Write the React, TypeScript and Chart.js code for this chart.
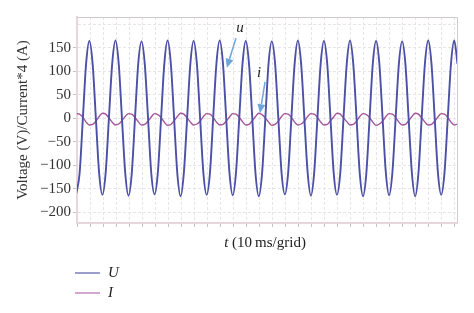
import React, { useEffect, useRef } from 'react';
import { Chart, registerables } from 'chart.js';

Chart.register(...registerables);

// Sampling of the recorded waveforms (ms)
const SAMPLE_START_MS = -0.5;
const SAMPLE_STEP_MS = 2.5;

// Voltage U (V), one row per 20 ms cycle
const voltage: number[] = [
  -160, -117, 0, 117, 165, 116, -1, -117,
  -163, -116, 1, 116, 166, 117, 0, -116,
  -165, -118, 0, 117, 164, 116, 1, -117,
  -162, -117, -1, 116, 166, 117, 0, -118,
  -166, -116, 0, 117, 165, 116, -1, -117,
  -163, -117, 1, 117, 166, 117, 0, -116,
  -164, -116, 0, 116, 165, 116, 1, -118,
  -166, -118, -1, 117, 164, 117, 0, -117,
  -162, -117, 0, 116, 166, 116, -1, -116,
  -165, -116, 1, 117, 165, 117, 0, -117,
  -163, -117, 0, 116, 166, 116, 1, -118,
  -166, -118, -1, 117, 165, 117, 0, -116,
  -164, -116, 0, 116, 164, 116, -1, -117,
  -166, -117, 1, 117, 166, 117, 0, -117,
  -163, -116, 0, 117, 166, 116,
];

// Current*4 I (A), same sampling
const current: number[] = [
  10, 9, 2, -8, -14, -13, -6, 4,
  11, 9, 1, -8, -14, -12, -5, 4,
  10, 9, 2, -7, -14, -13, -6, 3,
  10, 8, 2, -8, -15, -13, -5, 4,
  11, 9, 1, -8, -14, -12, -6, 4,
  10, 9, 2, -8, -14, -13, -6, 3,
  10, 9, 2, -7, -14, -13, -5, 4,
  11, 8, 1, -8, -15, -13, -6, 4,
  10, 9, 2, -8, -14, -12, -6, 4,
  10, 9, 2, -8, -14, -13, -5, 3,
  11, 9, 1, -7, -14, -13, -6, 4,
  10, 8, 2, -8, -15, -12, -6, 4,
  10, 9, 2, -8, -14, -13, -5, 4,
  11, 9, 1, -8, -14, -13, -6, 3,
  10, 9, 2, -8, -14, -12,
];

const seriesLabels = ['U', 'I'];
const seriesColors = ['#4c50a6', '#a4559c'];
const legendColors = ['#7a7cb8', '#c48ac0'];

const X_MIN = 0;
const X_MAX = 291.6;
const Y_MIN = -223;
const Y_MAX = 216;
const Y_LABEL_MAX = 150;

const yTitle = 'Voltage (V)/Current*4 (A)';
const xTitleItalic = 't';
const xTitleRest = ' (10\u2009ms/grid)';

// arrow annotations in data coordinates
const annotations = [
  { text: 'u', lx: 125, ly: 193, fx: 122, fy: 171, tx: 115, ty: 108 },
  { text: 'i', lx: 139.7, ly: 96, fx: 144.3, fy: 78, tx: 140.4, ty: 11 },
];

const SERIF = '"Liberation Serif", "Times New Roman", serif';

const overlayPlugin = {
  id: 'overlay',
  afterDraw(chart: any) {
    const { ctx, chartArea: ca, scales } = chart;
    const xs = scales.x;
    const ys = scales.y;
    ctx.save();
    // top & right frame
    ctx.strokeStyle = '#cfcacc';
    ctx.lineWidth = 1;
    ctx.beginPath();
    ctx.moveTo(ca.left, ca.top + 0.5);
    ctx.lineTo(ca.right + 0.5, ca.top + 0.5);
    ctx.lineTo(ca.right + 0.5, ca.bottom);
    ctx.stroke();

    // annotations
    annotations.forEach((a) => {
      const x1 = xs.getPixelForValue(a.fx);
      const y1 = ys.getPixelForValue(a.fy);
      const x2 = xs.getPixelForValue(a.tx);
      const y2 = ys.getPixelForValue(a.ty);
      const ang = Math.atan2(y2 - y1, x2 - x1);
      const head = 9;
      const hw = 4;
      const bx = x2 - head * Math.cos(ang);
      const by = y2 - head * Math.sin(ang);
      ctx.strokeStyle = '#6ea6dc';
      ctx.fillStyle = '#6ea6dc';
      ctx.lineWidth = 1.5;
      ctx.beginPath();
      ctx.moveTo(x1, y1);
      ctx.lineTo(bx, by);
      ctx.stroke();
      ctx.beginPath();
      ctx.moveTo(x2, y2);
      ctx.lineTo(bx + hw * Math.sin(ang), by - hw * Math.cos(ang));
      ctx.lineTo(bx - hw * Math.sin(ang), by + hw * Math.cos(ang));
      ctx.closePath();
      ctx.fill();
      ctx.fillStyle = '#222';
      ctx.font = 'italic 15px ' + SERIF;
      ctx.textAlign = 'center';
      ctx.textBaseline = 'middle';
      ctx.fillText(a.text, xs.getPixelForValue(a.lx), ys.getPixelForValue(a.ly));
    });

    // y title
    ctx.save();
    ctx.translate(23, 120);
    ctx.rotate(-Math.PI / 2);
    ctx.fillStyle = '#333';
    ctx.font = '15px ' + SERIF;
    ctx.textAlign = 'center';
    ctx.textBaseline = 'middle';
    ctx.fillText(yTitle, 0, 0);
    ctx.restore();

    // x title
    ctx.fillStyle = '#222';
    ctx.textBaseline = 'middle';
    ctx.textAlign = 'left';
    ctx.font = 'italic 15px ' + SERIF;
    const w1 = ctx.measureText(xTitleItalic).width;
    ctx.font = '15px ' + SERIF;
    const w2 = ctx.measureText(xTitleRest).width;
    const cx = (ca.left + ca.right) / 2 - 2;
    const sx = cx - (w1 + w2) / 2;
    ctx.font = 'italic 15px ' + SERIF;
    ctx.fillText(xTitleItalic, sx, 243);
    ctx.font = '15px ' + SERIF;
    ctx.fillText(xTitleRest, sx + w1, 243);

    // legend
    seriesLabels.forEach((lab, i) => {
      const ly = 273 + i * 20;
      ctx.strokeStyle = legendColors[i];
      ctx.lineWidth = 1.5;
      ctx.beginPath();
      ctx.moveTo(75, ly);
      ctx.lineTo(100, ly);
      ctx.stroke();
      ctx.fillStyle = '#222';
      ctx.font = 'italic 15px ' + SERIF;
      ctx.textAlign = 'left';
      ctx.textBaseline = 'middle';
      ctx.fillText(lab, 108, ly);
    });
    ctx.restore();
  },
};

export default function App() {
  const ref = useRef<HTMLCanvasElement | null>(null);
  useEffect(() => {
    document.body.style.margin = '0';
    const canvas = ref.current;
    if (!canvas) return;
    const toPts = (arr: number[]) =>
      arr.map((v, i) => ({ x: SAMPLE_START_MS + i * SAMPLE_STEP_MS, y: v }));
    const chart = new Chart(canvas, {
      type: 'line',
      data: {
        datasets: [
          {
            label: seriesLabels[0],
            data: toPts(voltage),
            borderColor: seriesColors[0],
            borderWidth: 1.9,
            pointRadius: 0,
            cubicInterpolationMode: 'monotone',
          },
          {
            label: seriesLabels[1],
            data: toPts(current),
            borderColor: seriesColors[1],
            borderWidth: 1.4,
            pointRadius: 0,
            cubicInterpolationMode: 'monotone',
          },
        ],
      },
      options: {
        responsive: false,
        animation: false,
        events: [],
        layout: { padding: { left: 0, top: 17, right: 17, bottom: 0 } },
        plugins: { legend: { display: false }, tooltip: { enabled: false } },
        scales: {
          x: {
            type: 'linear',
            min: X_MIN,
            max: X_MAX,
            afterFit: (s: any) => {
              s.height = 313 - 223;
            },
            ticks: { display: false, stepSize: 10, includeBounds: false },
            grid: {
              color: '#e9e4e7',
              lineWidth: 1,
              tickLength: 4,
              tickColor: '#c9c0c5',
            },
            border: { display: true, color: '#e8d6de', width: 2, dash: [3, 2] },
          },
          y: {
            type: 'linear',
            min: Y_MIN,
            max: Y_MAX,
            afterFit: (s: any) => {
              s.width = 77;
            },
            ticks: {
              stepSize: 25,
              includeBounds: false,
              padding: 2,
              color: '#333',
              font: { family: SERIF, size: 15 },
              callback: (v: any) =>
                Number(v) % 50 === 0 && Number(v) <= Y_LABEL_MAX
                  ? String(v).replace('-', '\u2212')
                  : '',
            },
            grid: {
              color: '#e9e4e7',
              lineWidth: 1,
              tickLength: 4,
              tickColor: (c: any) =>
                c.tick && c.tick.value % 50 === 0 && c.tick.value <= Y_LABEL_MAX
                  ? '#c9c0c5'
                  : 'rgba(0,0,0,0)',
            },
            border: { display: true, color: '#e8d6de', width: 2, dash: [3, 2] },
          },
        },
      },
      plugins: [overlayPlugin],
    } as any);
    return () => chart.destroy();
  }, []);
  return (
    <div style={{ width: 474, height: 313 }}>
      <canvas ref={ref} width={474} height={313} />
    </div>
  );
}
